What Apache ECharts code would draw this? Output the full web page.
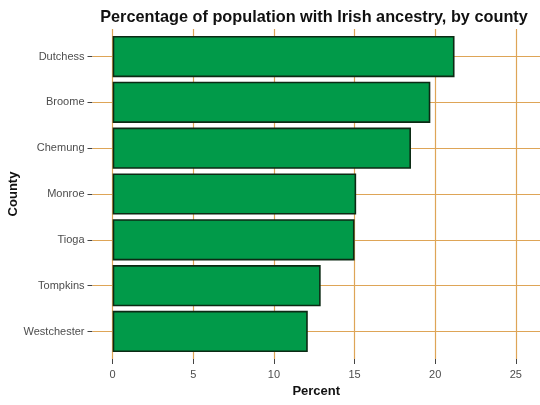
<!DOCTYPE html>
<html><head><meta charset="utf-8">
<script src="https://cdn.jsdelivr.net/npm/echarts@6/dist/echarts.min.js"></script>
<style>html,body{margin:0;padding:0;background:#fff}#c{width:540px;height:405px}</style>
</head><body><div id="c"></div>
<script>
const counties = ['Dutchess','Broome','Chemung','Monroe','Tioga','Tompkins','Westchester'];
const percents = [21.2, 19.7, 18.5, 15.1, 15.0, 12.9, 12.1];
const xTicks = [0, 5, 10, 15, 20, 25];
const xMin = -1.25, xMax = 26.5;

const gridColor = '#dea557';
const font = 'Liberation Sans';
const chart = echarts.init(document.getElementById('c'), null, {renderer:'canvas'});
chart.setOption({
  backgroundColor:'#ffffff',
  animation:false,
  title:{text:'Percentage of population with Irish ancestry, by county',left:309,top:5,textAlign:'center',
    textStyle:{fontFamily:font,fontSize:16.3,fontWeight:'bold',color:'#111'}},
  grid:[
    {left:92.5,right:0,top:33.6,bottom:50.6,containLabel:false,outerBoundsMode:'none'},
    {left:92.5,right:0,top:29,bottom:46,containLabel:false,outerBoundsMode:'none'}
  ],
  xAxis:[
    {type:'value',gridIndex:0,min:xMin,max:xMax,show:false},
    {type:'value',gridIndex:1,min:xMin,max:xMax,
      name:'Percent',nameLocation:'middle',nameGap:24,
      nameTextStyle:{fontFamily:font,fontSize:13,fontWeight:'bold',color:'#111'},
      axisLine:{show:false},splitLine:{show:false},
      axisTick:{show:true,customValues:xTicks,length:5,lineStyle:{color:'#444'}},
      axisLabel:{customValues:xTicks,fontFamily:font,fontSize:11,color:'#4d4d4d',margin:10}}
  ],
  yAxis:[
    {type:'category',gridIndex:0,data:counties,inverse:true,
      name:'County',nameLocation:'middle',nameGap:73,nameMoveOverlap:false,
      nameTextStyle:{fontFamily:font,fontSize:13,fontWeight:'bold',color:'#111'},
      axisLine:{show:false,onZero:false},splitLine:{show:false},
      axisTick:{show:true,alignWithLabel:true,length:5,lineStyle:{color:'#444'}},
      axisLabel:{fontFamily:font,fontSize:11,color:'#4d4d4d',margin:8}},
    {type:'value',gridIndex:1,min:0,max:1,show:false}
  ],
  series:[
    {type:'line',xAxisIndex:1,yAxisIndex:1,data:[],z:1,silent:true,
      markLine:{silent:true,symbol:'none',z:1,label:{show:false},
        lineStyle:{color:gridColor,type:'solid',width:1.2},
        data:xTicks.map(v=>({xAxis:v}))}},
    {type:'line',xAxisIndex:0,yAxisIndex:0,data:[],z:1,silent:true,
      markLine:{silent:true,symbol:'none',z:1,label:{show:false},
        lineStyle:{color:gridColor,type:'solid',width:1.2},
        data:counties.map(c=>[{coord:[xMin,c]},{coord:[xMax,c]}])}},
    {type:'bar',xAxisIndex:0,yAxisIndex:0,data:percents,barWidth:'90%',z:5,
      itemStyle:{color:'#019a49',borderColor:'#0c2a14',borderWidth:1.6}}
  ]
});
</script></body></html>
